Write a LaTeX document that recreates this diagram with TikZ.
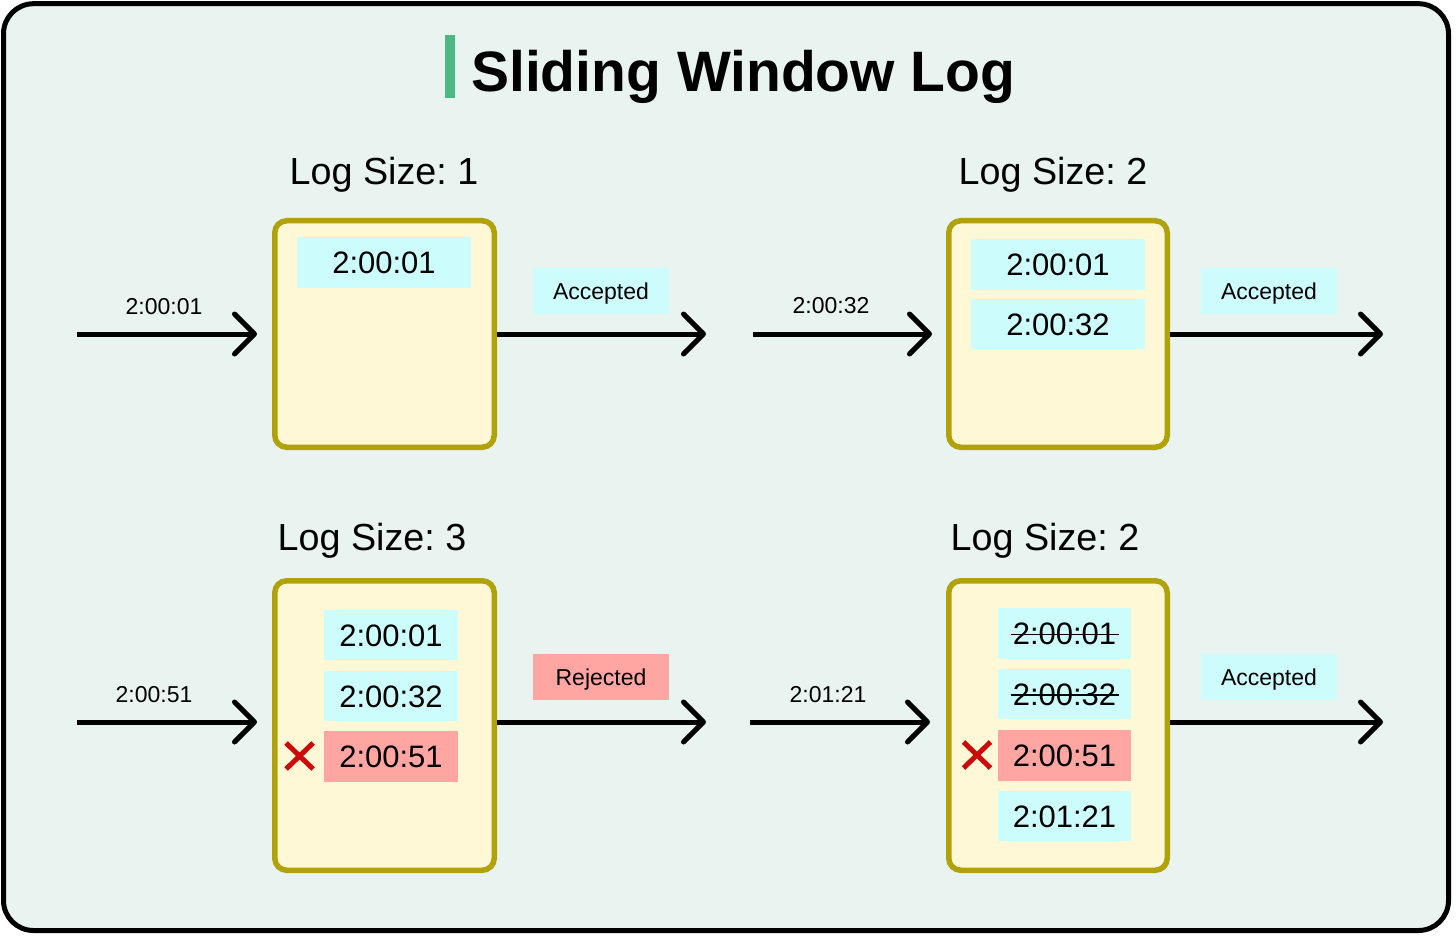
\documentclass[tikz,border=0pt]{standalone}
\usepackage{fontspec}
\setmainfont{Liberation Sans}
\usetikzlibrary{arrows.meta,shapes.misc}
\definecolor{bgmint}{HTML}{E9F4F0}
\definecolor{bargreen}{HTML}{4CB884}
\definecolor{logolive}{HTML}{B2A20A}
\definecolor{logfill}{HTML}{FFF8D6}
\definecolor{entrycyan}{HTML}{CCFCFC}
\definecolor{entryred}{HTML}{FFA6A3}
\definecolor{xred}{HTML}{CC0A0A}
\tikzset{
  sheet/.style={x=1pt, y=-1pt},
  frame/.style={draw=black, fill=bgmint, line width=5pt, rounded corners=30pt},
  logbox/.style={draw=logolive, fill=logfill, line width=5.5pt, rounded corners=12pt, inner sep=0pt},
  entry/.style={fill=entrycyan, inner sep=0pt, text height=22pt, text depth=0pt,
    font=\fontsize{31}{33}\selectfont},
  badentry/.style={entry, fill=entryred},
  strike/.style={line width=1.8pt},
  tag/.style={fill=entrycyan, minimum width=136pt, minimum height=46pt, inner sep=0pt,
    text height=16.5pt, text depth=0pt, font=\fontsize{23}{25}\selectfont},
  intext/.style={anchor=base, inner sep=0pt, font=\fontsize{23}{25}\selectfont},
  heading/.style={anchor=base, inner sep=0pt, font=\fontsize{37.7}{40}\selectfont\frenchspacing},
  flow/.style={line width=5pt, -{Straight Barb[length=20pt, width=40pt, round]}},
  xmark/.style={cross out, draw=xred, line width=5pt, minimum width=22pt, minimum height=21pt,
    inner sep=0pt},
}

\begin{document}
\begin{tikzpicture}[sheet]
  \useasboundingbox (0,0) rectangle (1456,936);
  \draw[frame] (3.5,3.7) rectangle (1448.5,930.5);
  % title
  \node[fill=bargreen, minimum width=10pt, minimum height=63pt, inner sep=0pt,
    anchor=north west] (bar) at (445,35) {};
  \node[anchor=base west, inner sep=0pt, font=\fontsize{57}{60}\selectfont\bfseries]
    (title) at (471,92) {Sliding Window Log};
  % log size 1, top left
  \begin{scope}[shift={(272,218)}]
    \node[logbox, minimum width=219.5pt, minimum height=226.5pt] (box1) at (112.5,116) {};
    \node[heading] (head1) at (112,-33) {Log Size: 1};
    \node[entry, minimum width=174pt, minimum height=51pt] (e1a) at (112,44.5) {2:00:01};
    \coordinate (in1) at (-195,116);
    \coordinate (out1) at (434,116);
    \node[intext] (lab1) at (-108,96) {2:00:01};
    \node[tag] (tag1) at (329,73) {Accepted};
    \draw[flow, shorten >=15pt] (in1) -- (box1.west);
    \draw[flow] (box1.east) -- (out1);
  \end{scope}
  % log size 2, top right
  \begin{scope}[shift={(946,218)}]
    \node[logbox, minimum width=218.5pt, minimum height=226.5pt] (box2) at (112,116) {};
    \node[heading] (head2) at (107,-33) {Log Size: 2};
    \node[entry, minimum width=174pt, minimum height=51pt] (e2a) at (112,46.5) {2:00:01};
    \node[entry, minimum width=174pt, minimum height=50pt] (e2b) at (112,106) {2:00:32};
    \coordinate (in2) at (-193,116);
    \coordinate (out2) at (437,116);
    \node[intext] (lab2) at (-115,95) {2:00:32};
    \node[tag] (tag2) at (323,73) {Accepted};
    \draw[flow, shorten >=14pt] (in2) -- (box2.west);
    \draw[flow] (box2.east) -- (out2);
  \end{scope}
  % log size 3, bottom left
  \begin{scope}[shift={(272,578)}]
    \node[logbox, minimum width=219.5pt, minimum height=289.5pt] (box3) at (112.5,147.5) {};
    \node[heading] (head3) at (100,-28) {Log Size: 3};
    \node[entry, minimum width=134pt, minimum height=50pt] (e3a) at (119,57) {2:00:01};
    \node[entry, minimum width=134pt, minimum height=50pt] (e3b) at (119,118) {2:00:32};
    \node[badentry, minimum width=134pt, minimum height=51pt] (e3c) at (119,178.5) {2:00:51};
    \node[xmark] (x3) at (27.6,178) {};
    \coordinate (in3) at (-195,144);
    \coordinate (out3) at (434,144);
    \node[intext] (lab3) at (-118,124) {2:00:51};
    \node[tag, fill=entryred] (tag3) at (329,99) {Rejected};
    \draw[flow, shorten >=15pt] (in3) -- (in3 -| box3.west);
    \draw[flow] (box3.east |- out3) -- (out3);
  \end{scope}
  % log size 2, bottom right
  \begin{scope}[shift={(946,578)}]
    \node[logbox, minimum width=218.5pt, minimum height=289.5pt] (box4) at (112,147.5) {};
    \node[heading] (head4) at (99,-28) {Log Size: 2};
    \node[entry, minimum width=133pt, minimum height=51pt] (e4a) at (118.5,55.5) {2:00:01};
    \node[entry, minimum width=133pt, minimum height=50pt] (e4b) at (118.5,116) {2:00:32};
    \node[badentry, minimum width=133pt, minimum height=51pt] (e4c) at (118.5,177.5) {2:00:51};
    \node[entry, minimum width=133pt, minimum height=50pt] (e4d) at (118.5,238) {2:01:21};
    \draw[strike] ([xshift=-54pt, yshift=-1pt]e4a.center) -- ([xshift=54pt, yshift=-1pt]e4a.center);
    \draw[strike] ([xshift=-54pt, yshift=-1pt]e4b.center) -- ([xshift=54pt, yshift=-1pt]e4b.center);
    \node[xmark] (x4) at (31,177) {};
    \coordinate (in4) at (-196,144);
    \coordinate (out4) at (437,144);
    \node[intext] (lab4) at (-118,124) {2:01:21};
    \node[tag] (tag4) at (323,99) {Accepted};
    \draw[flow, shorten >=16pt] (in4) -- (in4 -| box4.west);
    \draw[flow] (box4.east |- out4) -- (out4);
  \end{scope}
\end{tikzpicture}
\end{document}
